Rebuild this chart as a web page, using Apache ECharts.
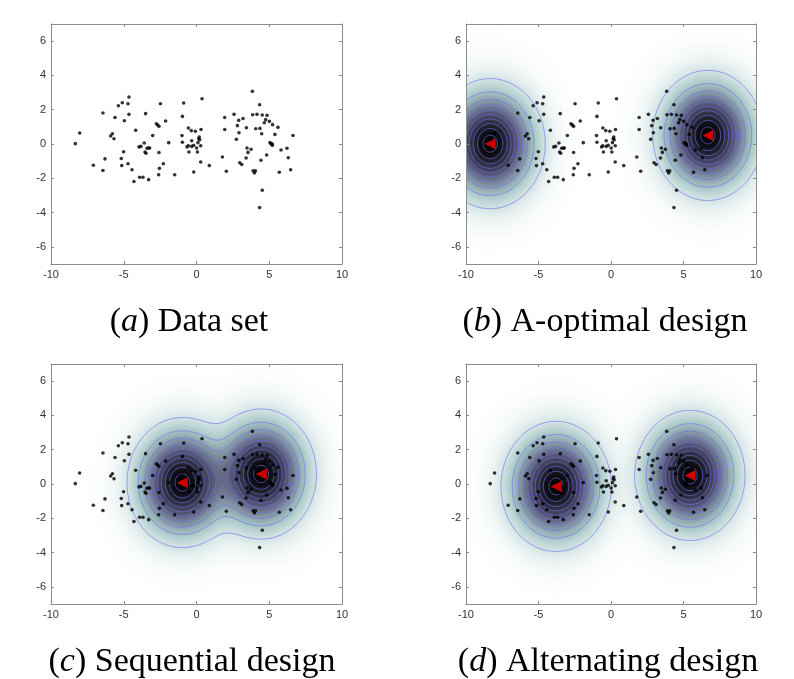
<!DOCTYPE html>
<html><head><meta charset="utf-8">
<script src="https://cdn.jsdelivr.net/npm/echarts@6/dist/echarts.min.js"></script>
<style>html,body{margin:0;padding:0;background:#fff}#c{width:794px;height:679px}</style>
</head><body><div id="c"></div>
<script>
// ---- data set ----
const pointX = [
 -8.33,-8.03,-7.09,-6.43,-6.43,-6.29,-5.90,-5.78,-5.67,-5.60,
 -5.37,-5.10,-5.17,-5.14,-5.01,-4.96,-4.71,-4.64,-4.64,-4.71,
 -4.43,-4.30,-4.18,-3.95,-3.82,-3.91,-3.68,-3.59,-3.50,-3.54,
 -3.47,-3.40,-3.29,-3.22,-3.29,-3.01,-2.76,-2.67,-2.58,-2.48,
 -2.58,-2.55,-2.60,-2.28,-2.12,-1.91,-1.50,-0.97,-0.88,-1.00,
 -0.97,-0.56,-0.65,-0.56,-0.52,-0.36,-0.33,-0.33,-0.19,-0.19,
 -0.08,0.01,0.06,0.10,0.15,0.19,0.22,
 0.31,0.29,0.29,0.38,
 0.88,1.78,1.94,1.94,2.05,2.58,2.74,2.81,2.90,2.92,
 2.97,3.11,3.20,3.41,3.43,3.47,3.54,3.75,3.84,3.86,
 3.89,3.98,4.05,4.07,4.16,4.34,4.36,4.43,4.34,4.48,
 4.52,4.52,4.66,4.75,4.82,4.85,5.01,5.05,5.12,5.21,
 5.21,5.23,5.39,5.60,5.69,5.81,6.22,6.31,6.47,6.63];
const pointY = [
 0.02,0.64,-1.24,1.81,-1.55,-0.87,0.47,0.60,0.31,1.55,
 2.23,2.41,-0.85,-1.26,-0.45,1.36,2.35,2.74,1.73,-1.15,
 -1.50,-2.19,0.80,-0.17,-0.14,-1.94,-1.94,0.06,1.77,-0.47,
 -0.54,-0.25,-0.23,-0.23,-2.08,0.50,1.18,1.11,1.03,2.35,
 -0.50,-1.42,-1.79,-1.15,1.34,0.08,-1.79,1.61,2.39,0.49,
 0.10,0.93,-0.17,-0.10,-0.47,0.78,0.19,-0.14,-0.08,-1.63,
 0.74,-0.23,-0.47,0.08,0.31,0.41,0.25,
 0.85,-0.10,-1.05,2.64,
 -1.26,-0.76,1.55,0.85,-1.59,1.73,0.27,1.07,1.38,0.66,
 -1.09,-1.20,1.49,-0.82,0.95,-0.23,-0.49,-0.31,3.07,1.71,
 -1.57,-1.69,-1.57,0.89,1.73,2.29,0.91,-0.95,-3.71,0.60,
 1.69,-2.70,1.24,1.42,-0.64,1.67,1.32,0.08,0.02,0.00,
 -0.08,1.13,0.56,0.97,-1.65,-0.35,-0.25,-0.80,-1.50,0.50];

// design points (red triangles) per panel
const designBX = [-8.33, 6.68];
const designBY = [0.02, 0.50];
const designCX = [-0.98, 4.45];
const designCY = [0.08, 0.58];
const designDX = [-3.79, 5.45];
const designDY = [-0.14, 0.50];
const kernelSigma = 1.55;
const shadeGamma = 0.7;
const contourLevels = [0.05,0.15,0.25,0.35,0.45,0.55,0.65,0.75,0.85,0.95];

const xTicks = [-10,-5,0,5,10];
const yTicks = [-6,-4,-2,0,2,4,6];
const captionLetters = ['a','b','c','d'];
const captionTexts = ['Data set','A-optimal design','Sequential design','Alternating design'];

// ---- layout ----
const grids = [
 {left:51, top:24, width:291, height:240},
 {left:466, top:24, width:290, height:240},
 {left:51, top:364, width:291, height:240},
 {left:466, top:364, width:290, height:240}
];
const captionPos = [[189,322],[605,322],[192,662],[608,662]];

const XMIN=-10, XMAX=10, YMIN=-7, YMAX=7;

function field(cx, cy, x, y){
  let s=0; const d2=2*kernelSigma*kernelSigma;
  for(let k=0;k<cx.length;k++){const dx=x-cx[k], dy=y-cy[k]; s+=Math.exp(-(dx*dx+dy*dy)/d2);}
  return s;
}
function clamp(v){return v<0?0:(v>1?1:v);}
function bone(t){
  const hR=clamp(t/0.375), hG=clamp((t-0.375)/0.375), hB=clamp((t-0.75)/0.25);
  const r=(7*t+hB)/8, g=(7*t+hG)/8, b=(7*t+hR)/8;
  return 'rgb('+Math.round(r*255)+','+Math.round(g*255)+','+Math.round(b*255)+')';
}

const colStep = 20/290;
const columns = [];
for(let x=XMIN+colStep/2; x<XMAX; x+=colStep) columns.push([x]);

function shadeRender(cx, cy){
  return function(params, api){
    const x = api.value(0);
    const pL = api.coord([x-colStep/2, YMAX]);
    const pR = api.coord([x+colStep/2, YMIN]);
    const stops=[]; const n=140;
    for(let k=0;k<=n;k++){
      const y = YMAX - k*(YMAX-YMIN)/n;
      const d = Math.pow(Math.min(1, field(cx, cy, x, y)), shadeGamma);
      stops.push({offset:k/n, color: bone(1-d)});
    }
    return {type:'rect', shape:{x:pL[0], y:pL[1], width:pR[0]-pL[0]+0.7, height:pR[1]-pL[1]},
      style:{fill:new echarts.graphic.LinearGradient(0,0,0,1,stops)}};
  };
}

function contourSegments(cx, cy){
  const h=0.1, nx=Math.round((XMAX-XMIN)/h), ny=Math.round((YMAX-YMIN)/h);
  const v=[];
  for(let i=0;i<=nx;i++){v[i]=[];for(let j=0;j<=ny;j++){v[i][j]=field(cx,cy,XMIN+i*h,YMIN+j*h);}}
  const segs=[];
  for(const L of contourLevels){
    for(let i=0;i<nx;i++){for(let j=0;j<ny;j++){
      const x0=XMIN+i*h, y0=YMIN+j*h;
      const c=[[x0,y0,v[i][j]],[x0+h,y0,v[i+1][j]],[x0+h,y0+h,v[i+1][j+1]],[x0,y0+h,v[i][j+1]]];
      const pts=[];
      for(let e=0;e<4;e++){
        const a=c[e], b=c[(e+1)%4];
        if((a[2]-L)*(b[2]-L)<0){
          const t=(L-a[2])/(b[2]-a[2]);
          pts.push([a[0]+t*(b[0]-a[0]), a[1]+t*(b[1]-a[1])]);
        }
      }
      if(pts.length>=2) segs.push([pts[0][0],pts[0][1],pts[1][0],pts[1][1]]);
      if(pts.length===4) segs.push([pts[2][0],pts[2][1],pts[3][0],pts[3][1]]);
    }}
  }
  return segs;
}
function contourRender(params, api){
  const p0=api.coord([api.value(0),api.value(1)]);
  const p1=api.coord([api.value(2),api.value(3)]);
  return {type:'line', shape:{x1:p0[0],y1:p0[1],x2:p1[0],y2:p1[1]},
    style:{stroke:'rgba(110,110,240,0.8)', lineWidth:0.8}};
}

const axisColor='#8c8c8c';
const labelStyle={fontSize:11, color:'#333', fontFamily:'Liberation Sans, Arial, sans-serif'};
const xAxes=[], yAxes=[];
grids.forEach((g,i)=>{
  ['bottom','top'].forEach(pos=>{
    xAxes.push({gridIndex:i, type:'value', min:XMIN, max:XMAX, interval:5, position:pos, z:10,
      axisLine:{show:true, onZero:false, lineStyle:{color:axisColor, width:1}},
      axisTick:{show:true, inside:true, length:3, lineStyle:{color:axisColor}, customValues:xTicks},
      axisLabel:{show:pos==='bottom', margin:5, customValues:xTicks, ...labelStyle},
      splitLine:{show:false}});
  });
  ['left','right'].forEach(pos=>{
    yAxes.push({gridIndex:i, type:'value', min:YMIN, max:YMAX, position:pos, z:10,
      axisLine:{show:true, onZero:false, lineStyle:{color:axisColor, width:1}},
      axisTick:{show:true, inside:true, length:3, lineStyle:{color:axisColor}, customValues:yTicks},
      axisLabel:{show:pos==='left', margin:5, customValues:yTicks, ...labelStyle},
      splitLine:{show:false}});
  });
});

const series=[];
const designs=[null,[designBX,designBY],[designCX,designCY],[designDX,designDY]];
const pts=[]; for(let k=0;k<Math.min(pointX.length,pointY.length);k++) pts.push([pointX[k],pointY[k]]);
grids.forEach((g,i)=>{
  const des=designs[i];
  if(des){
    series.push({type:'custom', xAxisIndex:2*i, yAxisIndex:2*i, data:columns, renderItem:shadeRender(des[0],des[1]),
      clip:true, silent:true, progressive:0, animation:false, z:1});
    series.push({type:'custom', xAxisIndex:2*i, yAxisIndex:2*i, data:contourSegments(des[0],des[1]), renderItem:contourRender,
      clip:true, silent:true, progressive:0, animation:false, z:2, encode:{x:[0,2], y:[1,3]}});
  }
  series.push({type:'scatter', xAxisIndex:2*i, yAxisIndex:2*i, data:pts, symbol:'circle', symbolSize:3.6,
    itemStyle:{color:'#000'}, silent:true, z:3, animation:false});
  if(des){
    const dp=des[0].map((x,k)=>[x,des[1][k]]);
    series.push({type:'scatter', xAxisIndex:2*i, yAxisIndex:2*i, data:dp, symbol:'triangle', symbolRotate:90,
      symbolSize:[11,11], itemStyle:{color:'#ff0000'}, silent:true, z:4, animation:false});
  }
});

const serif='"Liberation Serif","Times New Roman",serif';
const graphic=captionPos.map((p,i)=>({type:'text', x:p[0], y:p[1], style:{
  text:'{p|(}{i|'+captionLetters[i]+'}{p|) '+captionTexts[i]+'}',
  align:'center', verticalAlign:'middle', textAlign:'center', textVerticalAlign:'middle',
  rich:{p:{fontFamily:serif, fontSize:34, fill:'#000', color:'#000'},
        i:{fontFamily:serif, fontSize:34, fontStyle:'italic', fill:'#000', color:'#000'}}
}}));

const chart=echarts.init(document.getElementById('c'),null,{renderer:'canvas'});
chart.setOption({animation:false, backgroundColor:'#fff', grid:grids, xAxis:xAxes, yAxis:yAxes, series, graphic});
</script></body></html>
